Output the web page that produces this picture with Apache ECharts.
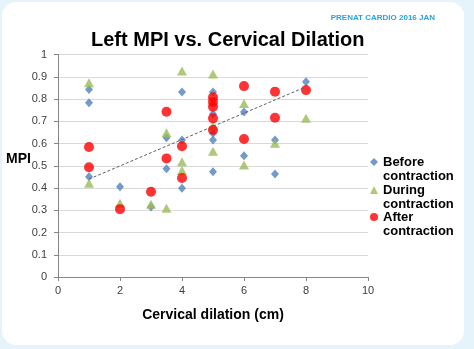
<!DOCTYPE html>
<html>
<head>
<meta charset="utf-8">
<script src="https://cdn.jsdelivr.net/npm/echarts@6/dist/echarts.min.js"></script>
<style>
html,body{margin:0;padding:0;background:#e4f4fa;}
#chart{width:474px;height:349px;}
</style>
</head>
<body>
<div id="chart"></div>
<script>
// Data
var beforeX = [1, 1, 1, 2, 3, 3.5, 3.5, 4, 4, 4, 5, 5, 5, 5, 5, 6, 6, 7, 7, 8];
var beforeY = [0.843, 0.783, 0.451, 0.406, 0.315, 0.626, 0.486, 0.832, 0.616, 0.399, 0.831, 0.733, 0.646, 0.616, 0.473, 0.742, 0.545, 0.616, 0.463, 0.878];
var duringX = [1, 1, 2, 3, 3.5, 3.5, 4, 4, 4, 5, 5, 5, 6, 6, 7, 8];
var duringY = [0.873, 0.421, 0.332, 0.327, 0.648, 0.309, 0.926, 0.518, 0.479, 0.912, 0.68, 0.565, 0.78, 0.503, 0.601, 0.713];
var afterX = [1, 1, 2, 3, 3.5, 3.5, 4, 4, 5, 5, 5, 5, 5, 6, 6, 7, 7, 8];
var afterY = [0.584, 0.493, 0.305, 0.383, 0.743, 0.533, 0.588, 0.445, 0.808, 0.787, 0.765, 0.713, 0.661, 0.858, 0.62, 0.833, 0.716, 0.84];
var trendX = [1, 8];
var trendY = [0.44, 0.855];
var seriesNames = ['Before contraction', 'During contraction', 'After contraction'];
var xTicks = [0, 2, 4, 6, 8, 10];
var yTicks = [0, 0.1, 0.2, 0.3, 0.4, 0.5, 0.6, 0.7, 0.8, 0.9, 1];

function pairs(xs, ys) { return xs.map(function (x, i) { return [x, ys[i]]; }); }

var chart = echarts.init(document.getElementById('chart'), null, {renderer: 'canvas'});
var FONT = 'Liberation Sans, Arial, sans-serif';
var lineStyleText = {fontFamily: FONT, fontWeight: 'bold', fontSize: 13, color: '#000', lineHeight: 14};
var legendText = {
  fontFamily: FONT, fontWeight: 'bold', fontSize: 13, color: '#000', lineHeight: 14,
  rich: {p: lineStyleText, a: lineStyleText}
};
function legendFmt(n) {
  var parts = n.split(' ');
  return '{p| }\n{a|' + parts[0] + '}\n{a|' + parts[1] + '}';
}
function mkLegend(name, icon, top) {
  return {
    data: [{name: name, icon: icon}], left: 370, top: top, padding: 0,
    itemWidth: 8, itemHeight: 8, selectedMode: false,
    textStyle: legendText, formatter: legendFmt
  };
}

var option = {
  backgroundColor: 'transparent',
  animation: false,
  graphic: [{
    type: 'rect', z: -10, silent: true,
    shape: {x: 2, y: 2, width: 462, height: 343, r: 14},
    style: {fill: '#ffffff'}
  }],
  title: [{
    text: 'Left MPI vs. Cervical Dilation', left: 91, top: 30, padding: 0,
    textStyle: {fontFamily: FONT, fontWeight: 'bold', fontSize: 20, color: '#000'}
  }, {
    text: 'PRENAT CARDIO 2016 JAN', right: 39, top: 14, padding: 0,
    textStyle: {fontFamily: FONT, fontWeight: 'bold', fontSize: 8, color: '#29a3dc'}
  }],
  legend: [
    mkLegend(seriesNames[0], 'diamond', 141),
    mkLegend(seriesNames[1], 'triangle', 169),
    mkLegend(seriesNames[2], 'circle', 196)
  ],
  grid: {left: 58, right: 106, top: 54.5, bottom: 72, containLabel: false, outerBoundsMode: 'none'},
  xAxis: {
    type: 'value', min: xTicks[0], max: xTicks[xTicks.length - 1], interval: 2,
    name: 'Cervical dilation (cm)', nameLocation: 'middle', nameGap: 31, nameMoveOverlap: false,
    nameTextStyle: {fontFamily: FONT, fontWeight: 'bold', fontSize: 14, color: '#000'},
    axisLine: {lineStyle: {color: '#868686', width: 1}},
    axisTick: {show: true, length: 4, lineStyle: {color: '#868686'}},
    axisLabel: {margin: 8, fontFamily: FONT, fontSize: 11, color: '#404040'},
    splitLine: {show: false}
  },
  yAxis: {
    type: 'value', min: yTicks[0], max: yTicks[yTicks.length - 1], interval: 0.1,
    name: 'MPI', nameLocation: 'middle', nameRotate: 0, nameGap: 27, nameMoveOverlap: false,
    nameTextStyle: {fontFamily: FONT, fontWeight: 'bold', fontSize: 14, color: '#000', verticalAlign: 'bottom'},
    axisLine: {show: true, lineStyle: {color: '#868686', width: 1}},
    axisTick: {show: true, length: 4, lineStyle: {color: '#868686'}},
    axisLabel: {margin: 11, fontFamily: FONT, fontSize: 11, color: '#404040',
      formatter: function (v) { return String(Math.round(v * 10) / 10); }},
    splitLine: {show: true, lineStyle: {color: '#d9d9d9', width: 1}}
  },
  series: [{
    name: seriesNames[0], type: 'scatter', symbol: 'diamond', symbolSize: [8, 9],
    itemStyle: {color: '#4f81bd'}, data: pairs(beforeX, beforeY), z: 2
  }, {
    name: seriesNames[1], type: 'scatter', symbol: 'triangle', symbolSize: [10, 9],
    itemStyle: {color: '#9bbb59'}, data: pairs(duringX, duringY), z: 3
  }, {
    name: seriesNames[2], type: 'scatter', symbol: 'circle', symbolSize: 10,
    itemStyle: {color: '#ff0000'}, data: pairs(afterX, afterY), z: 4
  }, {
    name: 'trend', type: 'line', showSymbol: false, symbol: 'none', silent: true,
    lineStyle: {color: '#606060', width: 1, type: [3, 2]},
    data: pairs(trendX, trendY), z: 5
  }]
};
chart.setOption(option);
</script>
</body>
</html>
